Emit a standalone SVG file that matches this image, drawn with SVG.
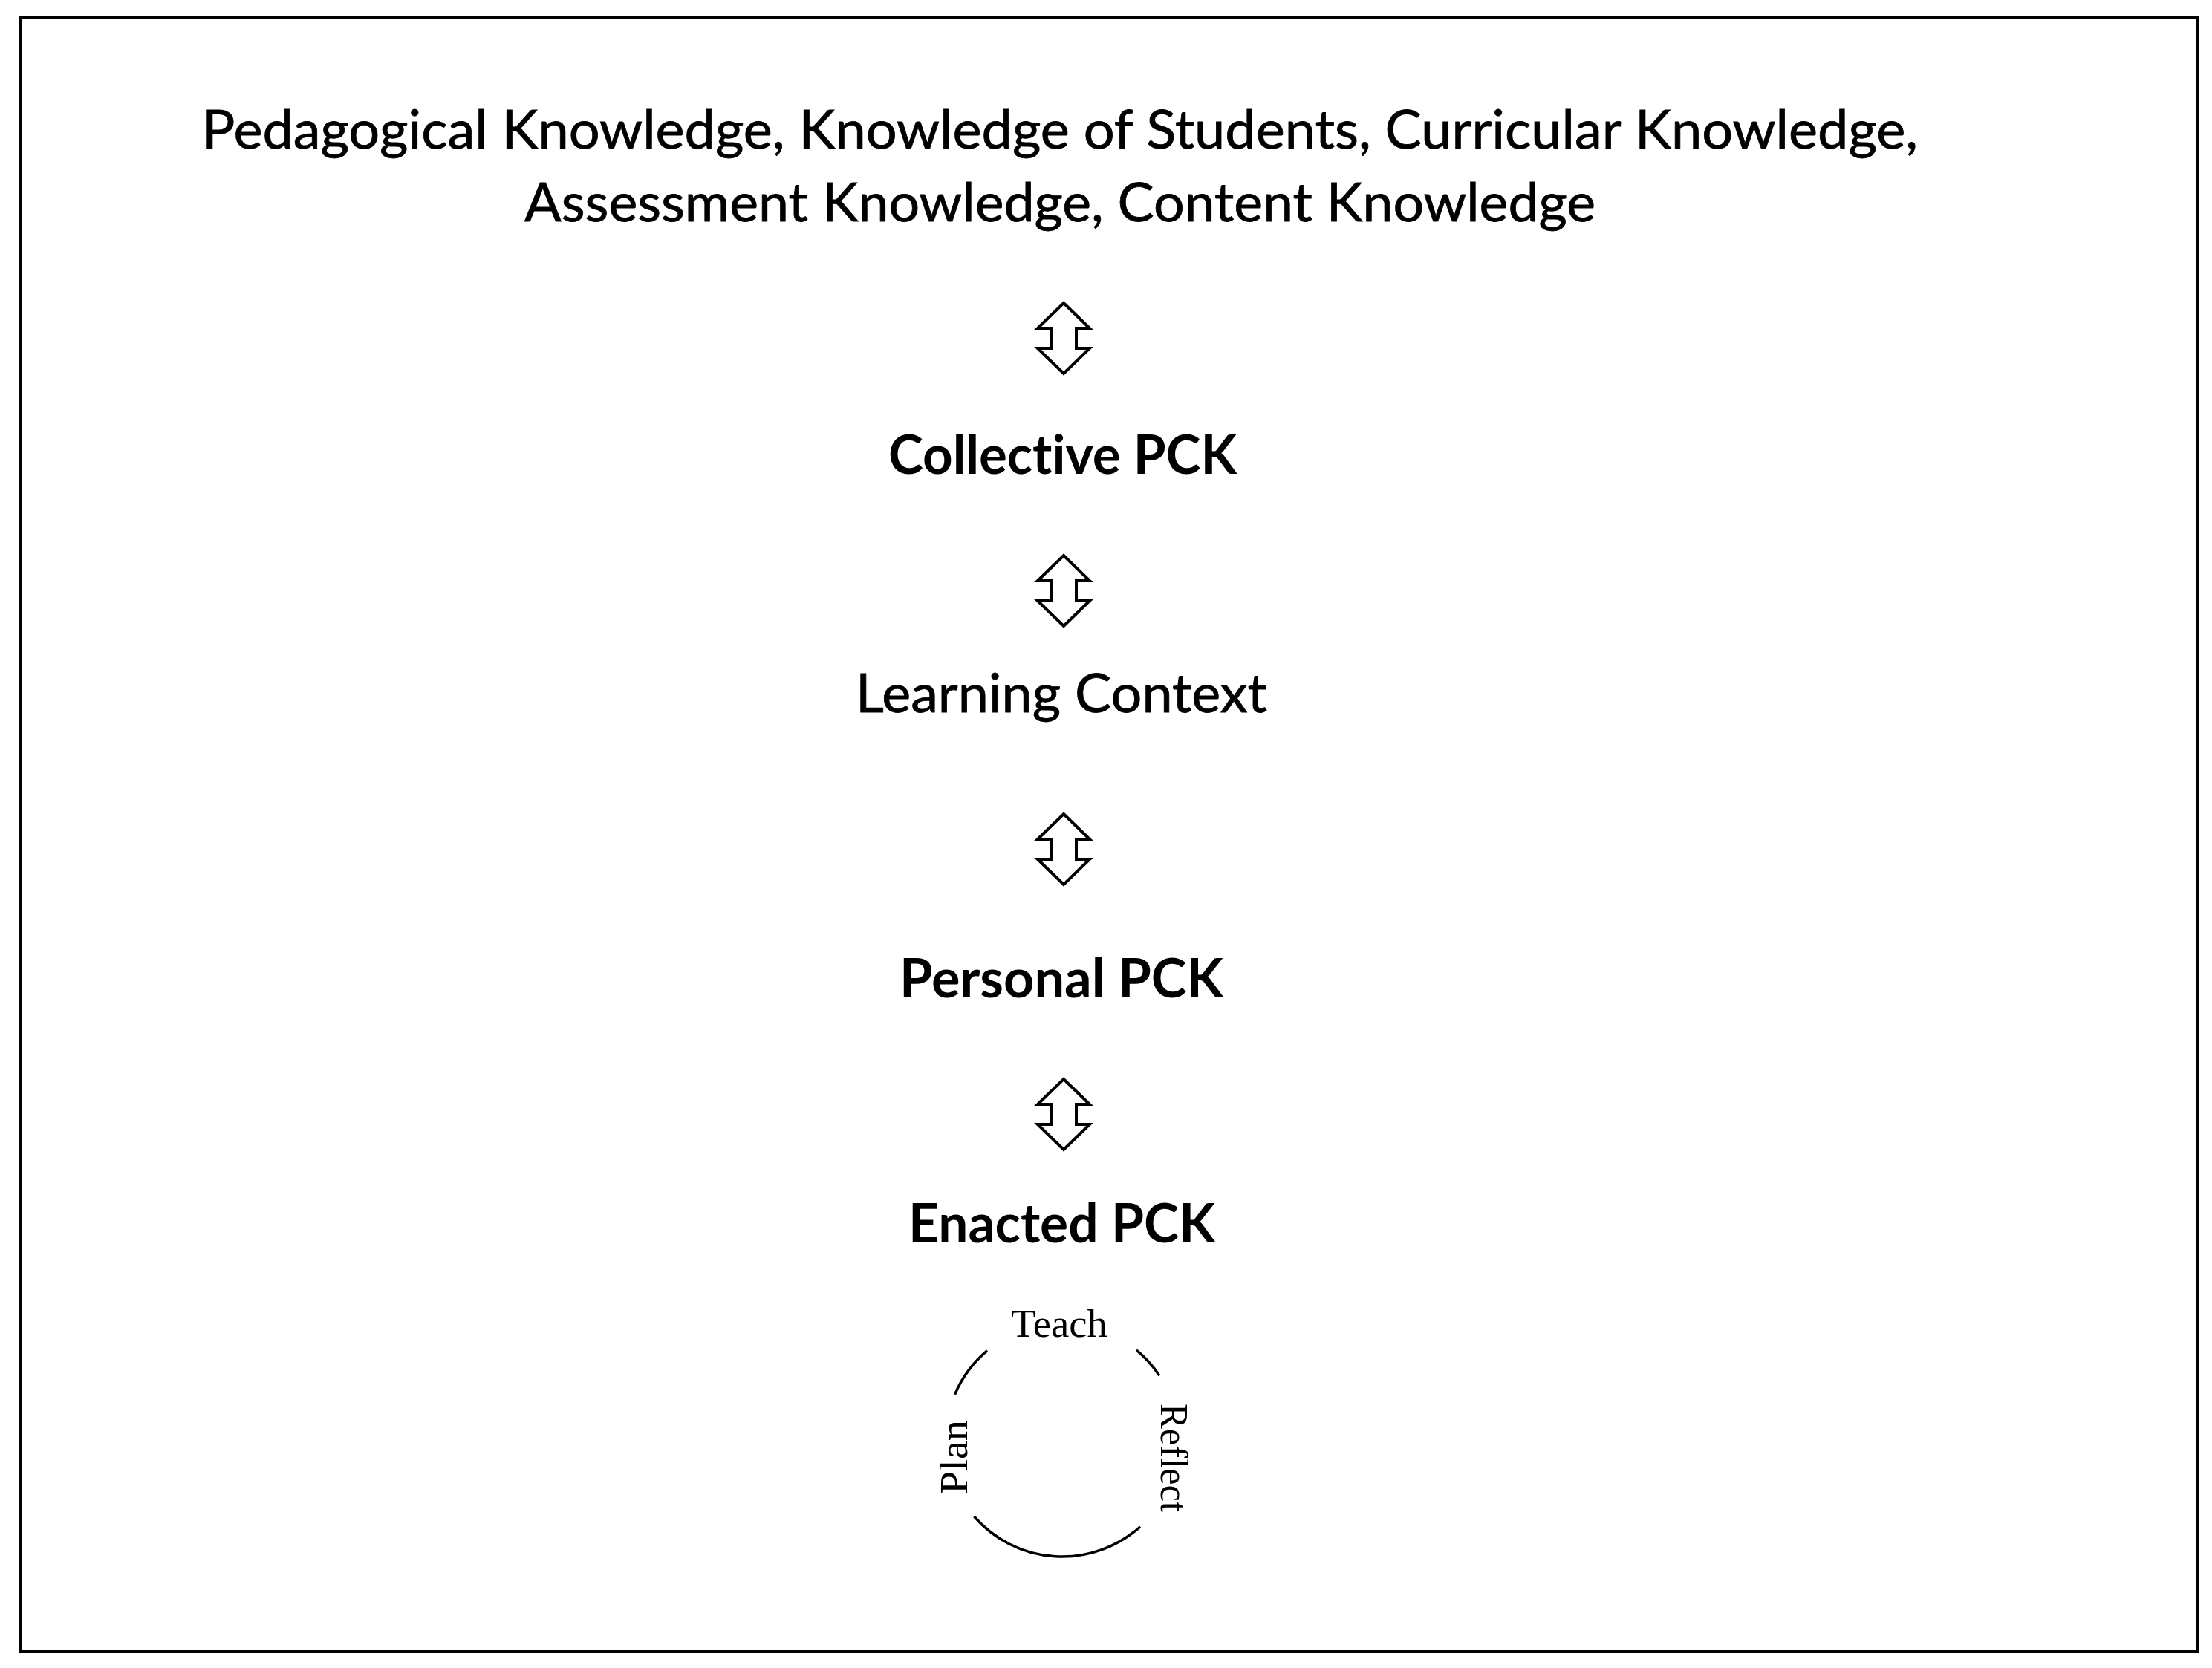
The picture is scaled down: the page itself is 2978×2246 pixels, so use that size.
<svg xmlns="http://www.w3.org/2000/svg" width="2978" height="2246" viewBox="0 0 2978 2246">
<style>
.sans{font-family:Lato,"Open Sans","Liberation Sans",sans-serif;font-size:72px;fill:#000;font-variant-ligatures:none;font-feature-settings:"liga" 0,"clig" 0}
.reg{stroke:#000;stroke-width:0.8}
.bold{font-weight:bold}
.serif{font-family:"Liberation Serif","DejaVu Serif",serif;font-size:52px;fill:#000}
.arrow{fill:#fff;stroke:#000;stroke-width:4;stroke-linejoin:miter}
.arc{fill:none;stroke:#000;stroke-width:3.5}
</style>
<defs>
<path id="dbl" d="M0,0 L35,34 L17,34 L17,61 L35,61 L0,95 L-35,61 L-17,61 L-17,34 L-35,34 Z"/>
</defs>
<rect x="0" y="0" width="2978" height="2246" fill="#fff"/>
<rect id="frame" x="28" y="23" width="2930" height="2201" fill="none" stroke="#000" stroke-width="4"/>
<g id="knowledge">
<text class="sans reg" x="272" y="200" textLength="2310" lengthAdjust="spacingAndGlyphs">Pedagogical Knowledge, Knowledge of Students, Curricular Knowledge,</text>
<text class="sans reg" x="706" y="298" textLength="1442" lengthAdjust="spacingAndGlyphs">Assessment Knowledge, Content Knowledge</text>
</g>
<g id="collective">
<text class="sans bold" x="1196" y="638" textLength="469" lengthAdjust="spacingAndGlyphs">Collective PCK</text>
</g>
<g id="learning">
<text class="sans reg" x="1152" y="959" textLength="554" lengthAdjust="spacingAndGlyphs">Learning Context</text>
</g>
<g id="personal">
<text class="sans bold" x="1211" y="1343" textLength="436" lengthAdjust="spacingAndGlyphs">Personal PCK</text>
</g>
<g id="enacted">
<text class="sans bold" x="1223" y="1673" textLength="413" lengthAdjust="spacingAndGlyphs">Enacted PCK</text>
</g>
<g id="cycle">
<path class="arc" d="M1285.5,1877.7 A157,157 0 0 1 1329.1,1818.7"/>
<path class="arc" d="M1529.9,1817.9 A157,157 0 0 1 1560.9,1852.4"/>
<path class="arc" d="M1535.1,2055.7 A157,157 0 0 1 1311.5,2042.0"/>
<text class="serif" x="1361" y="1800" textLength="130" lengthAdjust="spacingAndGlyphs">Teach</text>
<text class="serif" transform="translate(1302,2012) rotate(-90)" textLength="100" lengthAdjust="spacingAndGlyphs">Plan</text>
<text class="serif" transform="translate(1563,1890) rotate(90)" textLength="146" lengthAdjust="spacingAndGlyphs">Reflect</text>
</g>
<g id="connectors">
<use href="#dbl" class="arrow" x="1432" y="408"/>
<use href="#dbl" class="arrow" x="1432" y="748"/>
<use href="#dbl" class="arrow" x="1432" y="1096"/>
<use href="#dbl" class="arrow" x="1432" y="1453"/>
</g>
</svg>
